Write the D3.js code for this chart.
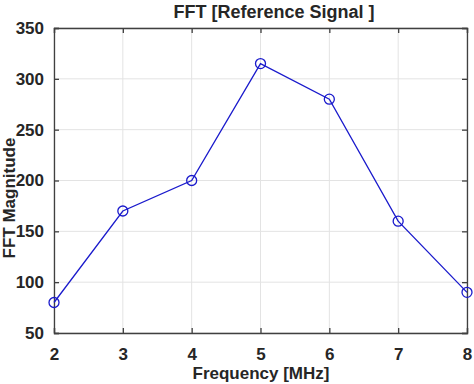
<!DOCTYPE html>
<html><head><meta charset="utf-8">
<script src="https://cdn.jsdelivr.net/npm/d3@7"></script>
<style>body{margin:0;background:#fff;} text{font-family:"Liberation Sans",Arial,sans-serif;font-weight:bold;fill:#262626;}</style>
</head><body><svg id="c" width="474" height="384"></svg>
<script>
const freq = [2, 3, 4, 5, 6, 7, 8];
const magnitude = [80, 170, 200, 315, 280, 160, 90];
const xTicks = [2, 3, 4, 5, 6, 7, 8];
const yTicks = [50, 100, 150, 200, 250, 300, 350];
const title = "FFT [Reference Signal ]";
const xLabel = "Frequency [MHz]";
const yLabel = "FFT Magnitude";

const svg = d3.select("#c");
const m = {l:54, r:467, t:28, b:333};
const x = d3.scaleLinear().domain([2,8]).range([m.l, m.r]);
const y = d3.scaleLinear().domain([50,350]).range([m.b, m.t]);

// grid
svg.append("g").selectAll("line").data(xTicks).join("line")
  .attr("x1", d=>x(d)).attr("x2", d=>x(d)).attr("y1", m.t).attr("y2", m.b)
  .attr("stroke", "#e3e3e3").attr("stroke-width", 1);
svg.append("g").selectAll("line").data(yTicks).join("line")
  .attr("y1", d=>y(d)).attr("y2", d=>y(d)).attr("x1", m.l).attr("x2", m.r)
  .attr("stroke", "#e3e3e3").attr("stroke-width", 1);

// axes with inward ticks
const xa = svg.append("g").attr("transform", `translate(0,${m.b})`)
  .call(d3.axisBottom(x).tickValues(xTicks).tickSize(-5).tickPadding(15).tickFormat(d3.format("d")));
const xt = svg.append("g").attr("transform", `translate(0,${m.t})`)
  .call(d3.axisTop(x).tickValues(xTicks).tickSize(-5).tickFormat(""));
const ya = svg.append("g").attr("transform", `translate(${m.l},0)`)
  .call(d3.axisLeft(y).tickValues(yTicks).tickSize(-5).tickPadding(10).tickFormat(d3.format("d")));
const yr = svg.append("g").attr("transform", `translate(${m.r},0)`)
  .call(d3.axisRight(y).tickValues(yTicks).tickSize(-5).tickFormat(""));
[xa, xt, ya, yr].forEach(g => {
  g.selectAll("path").attr("stroke", "#404040").attr("stroke-width", 1.3);
  g.selectAll("line").attr("stroke", "#404040").attr("stroke-width", 1.3);
  g.selectAll("text").attr("font-size", 17).attr("font-family", "'Liberation Sans',Arial,sans-serif").attr("font-weight","bold").attr("fill","#262626");
});

// line
svg.append("path").datum(freq.map((f,i)=>[f, magnitude[i]]))
  .attr("fill","none").attr("stroke","#1a1acc").attr("stroke-width",1.3)
  .attr("d", d3.line().x(d=>x(d[0])).y(d=>y(d[1])));
svg.append("g").selectAll("circle").data(freq.map((f,i)=>[f, magnitude[i]])).join("circle")
  .attr("cx", d=>x(d[0])).attr("cy", d=>y(d[1])).attr("r", 5)
  .attr("fill","none").attr("stroke","#1a1acc").attr("stroke-width",1.3);

// labels
svg.append("text").attr("x", 274).attr("y", 18).attr("text-anchor","middle").attr("font-size", 18).text(title);
svg.append("text").attr("x", 261).attr("y", 379).attr("text-anchor","middle").attr("font-size", 17).text(xLabel);
svg.append("text").attr("transform", "translate(15,198) rotate(-90)").attr("text-anchor","middle").attr("font-size", 17).text(yLabel);
</script></body></html>
